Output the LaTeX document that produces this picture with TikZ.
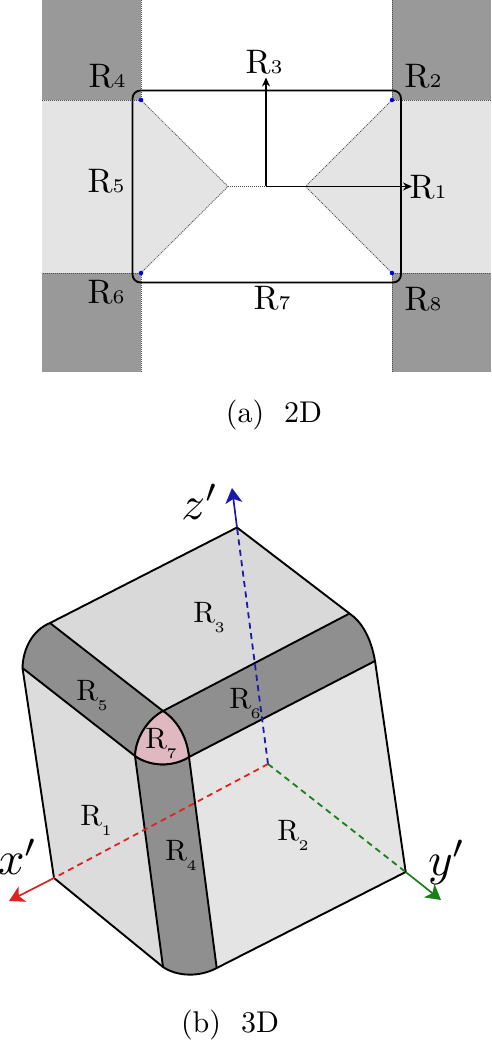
\documentclass[tikz,border=0pt]{standalone}
\usetikzlibrary{arrows.meta}
\definecolor{darkg}{HTML}{999999}
\definecolor{lightg}{HTML}{E4E4E4}
\definecolor{bandg}{HTML}{8F8F8F}
\definecolor{topg}{HTML}{D9D9D9}
\definecolor{sideg}{HTML}{DCDCDC}
\definecolor{pinkr}{HTML}{DFB8C0}
\definecolor{axr}{HTML}{DD2222}
\definecolor{axg}{HTML}{1A7F1A}
\definecolor{axb}{HTML}{1A1AAA}
\newcommand{\Rtwo}[1]{R{\fontsize{5.7}{7}\selectfont #1}}
\newcommand{\Rthree}[1]{R\raisebox{-3.4pt}{\kern-0.2pt\fontsize{5}{6}\selectfont #1}}
\tikzset{
  lab2/.style={inner sep=0pt,scale=3.4},
  lab3/.style={inner sep=0pt,scale=2.95},
  axlab/.style={inner sep=0pt,scale=4.7},
  captext/.style={inner sep=0pt,scale=3.0},
  dotline/.style={draw=black!70,line width=0.8pt,dash pattern=on 1pt off 1pt},
  edgethree/.style={draw=black,line width=1.9pt,line join=round},
  axisdash/.style={line width=1.8pt,dash pattern=on 6pt off 4.5pt},
  arrowtwo/.style={draw=black,line width=1.5pt,-{Stealth[length=9pt,width=8pt]}},
  arrowthree/.style={line width=1.7pt,-{Stealth[length=15pt,width=17pt,inset=4pt]}},
  bluedot/.style={circle,fill=blue!85!black,inner sep=0pt,minimum size=4.5pt}
}
\begin{document}
\begin{tikzpicture}[x=1pt,y=-1pt]
\useasboundingbox (0,0) rectangle (491,1040);
% 2D regions
\fill[darkg] (42,0) rectangle (141,100);
\fill[darkg] (392,0) rectangle (491,100);
\fill[darkg] (42,273) rectangle (141,372);
\fill[darkg] (392,273) rectangle (491,372);
\fill[lightg] (42,100) rectangle (141,273);
\fill[lightg] (392,100) rectangle (491,273);
\coordinate (tl) at (141,100);
\coordinate (tr) at (392,100);
\coordinate (bl) at (141,273);
\coordinate (br) at (392,273);
\coordinate (cl) at (228,186.5);
\coordinate (cr) at (305.5,186.5);
\coordinate (o2) at (266,186.5);
\fill[lightg] (tl) -- (cl) -- (bl) -- cycle;
\fill[lightg] (tr) -- (cr) -- (br) -- cycle;
\draw[dotline] (tl) -- (cl) -- (bl);
\draw[dotline] (tr) -- (cr) -- (br);
\draw[dotline] (cl) -- (cr);
\draw[dotline] (141,0) -- (tl) -- (42,100);
\draw[dotline] (392,0) -- (tr) -- (491,100);
\draw[dotline] (141,372) -- (bl) -- (42,273);
\draw[dotline] (392,372) -- (br) -- (491,273);
\draw[line width=1.8pt,rounded corners=8pt] (132.5,90.5) rectangle (401,282.5);
\node[bluedot] (d1) at (tl) {};
\node[bluedot] (d2) at (tr) {};
\node[bluedot] (d3) at (bl) {};
\node[bluedot] (d4) at (br) {};
\coordinate (a3) at (266,77.5);
\coordinate (a1) at (412,186.5);
\draw[arrowtwo] (o2) -- (a3);
\draw[arrowtwo] (o2) -- (a1);
\node[lab2] (n3) at (264,62) {\Rtwo{3}};
\node[lab2] (n1) at (428,187) {\Rtwo{1}};
\node[lab2] (n4) at (107,76) {\Rtwo{4}};
\node[lab2] (n2) at (423,76) {\Rtwo{2}};
\node[lab2] (n5) at (106,181) {\Rtwo{5}};
\node[lab2] (n6) at (106,292) {\Rtwo{6}};
\node[lab2] (n7) at (272,298) {\Rtwo{7}};
\node[lab2] (n8) at (423,299) {\Rtwo{8}};
\node[captext] (capa) at (274,414.5) {(a)\ \ 2D};
% 3D faces
\coordinate (T) at (237,527.5);
\coordinate (L) at (50,623);
\coordinate (C) at (163,711);
\coordinate (Rr) at (349.5,613.5);
\coordinate (LL) at (22.5,668);
\coordinate (CL) at (135,756);
\coordinate (CR) at (189,757);
\coordinate (RR) at (375,661);
\coordinate (Bx) at (54,878);
\coordinate (By) at (405.7,872);
\coordinate (BL) at (163,967);
\coordinate (BR) at (216.7,968);
\coordinate (O) at (268,764);
\fill[sideg] (LL) -- (CL) -- (BL) -- (Bx) -- cycle;
\fill[lightg] (CR) -- (RR) -- (By) -- (BR) -- cycle;
\fill[topg] (T) -- (L) -- (C) -- (Rr) -- cycle;
\path[edgethree,fill=bandg] (L) .. controls (33,630) and (23,648) .. (LL) -- (CL) .. controls (136,735) and (150,718) .. (C) -- cycle;
\path[edgethree,fill=bandg] (C) .. controls (178,721) and (187,738) .. (CR) -- (RR) .. controls (371,638) and (362,622) .. (Rr) -- cycle;
\path[edgethree,fill=bandg] (CL) .. controls (151,767) and (173,767) .. (CR) -- (BR) .. controls (200,977) and (178,977) .. (BL) -- cycle;
\path[edgethree,fill=pinkr] (C) .. controls (178,721) and (187,738) .. (CR) .. controls (173,767) and (151,767) .. (CL) .. controls (136,735) and (150,718) .. (C) -- cycle;
\draw[edgethree] (T) -- (L);
\draw[edgethree] (T) -- (Rr);
\draw[edgethree] (LL) -- (Bx) -- (BL);
\draw[edgethree] (RR) -- (By) -- (BR);
% axes
\coordinate (zt) at (232,488);
\coordinate (xt) at (9,901);
\coordinate (yt) at (441,900);
\draw[axb,axisdash] (O) -- (T);
\draw[axr,axisdash] (O) -- (Bx);
\draw[axg,axisdash] (O) -- (By);
\draw[axb,arrowthree] (T) -- (zt);
\draw[axr,arrowthree] (Bx) -- (xt);
\draw[axg,arrowthree] (By) -- (yt);
\node[lab3] (m3) at (209,618) {\Rthree{3}};
\node[lab3] (m5) at (92,695.5) {\Rthree{5}};
\node[lab3] (m6) at (245,704) {\Rthree{6}};
\node[lab3] (m7) at (161,744) {\Rthree{7}};
\node[lab3] (m1) at (96,820.5) {\Rthree{1}};
\node[lab3] (m4) at (181,855.5) {\Rthree{4}};
\node[lab3] (m2) at (293,835.5) {\Rthree{2}};
\node[axlab] (lz) at (200,502) {$z'$};
\node[axlab] (lx) at (18,857) {$x'$};
\node[axlab] (ly) at (447,862) {$y'$};
\node[captext] (capb) at (230,1024.5) {(b)\ \ 3D};
\end{tikzpicture}
\end{document}
